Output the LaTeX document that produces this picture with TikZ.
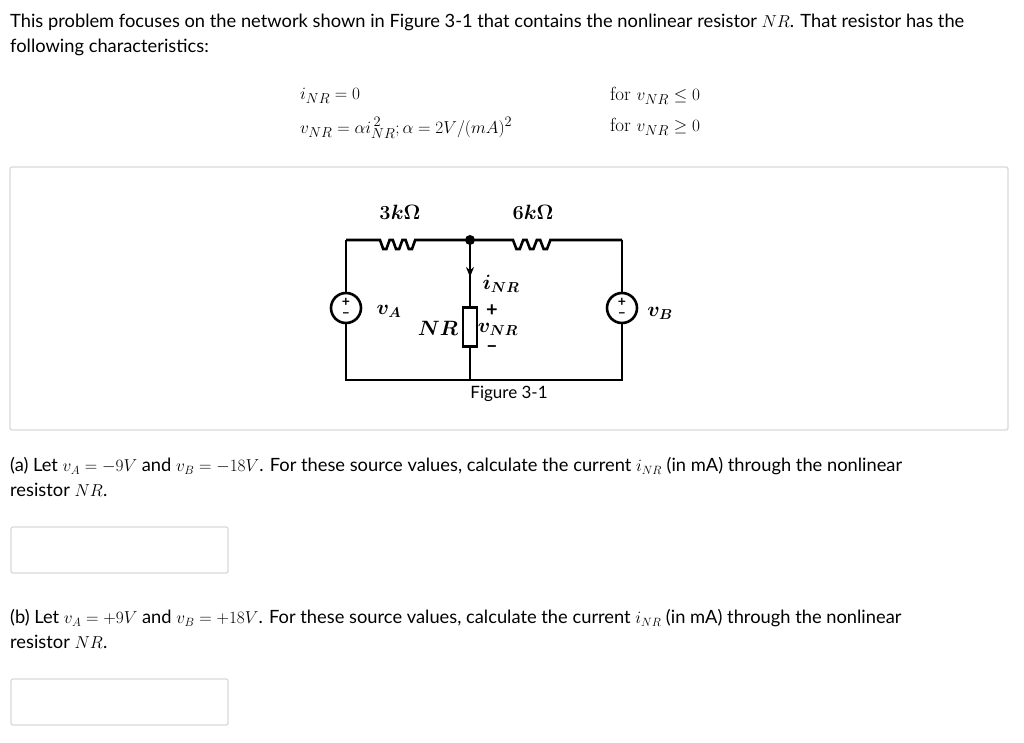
\documentclass[tikz,border=0pt]{standalone}
\usepackage{fontspec}
\setsansfont{Lato}
\usetikzlibrary{arrows.meta,positioning}
\tikzset{
  txt/.style={anchor=west,inner sep=0pt,font=\sffamily\fontsize{18.3}{22}\selectfont},
  eqn/.style={anchor=west,inner sep=0pt,font=\fontsize{19}{22}\selectfont},
  lbl/.style={inner sep=0pt,font=\bfseries\boldmath\fontsize{20}{24}\selectfont},
  ans/.style={draw=black!15,line width=1.3pt,rounded corners=2pt},
  wire/.style={line width=2.6pt}
}
\begin{document}
\begin{tikzpicture}[x=1pt,y=-1pt]
\useasboundingbox (0,0) rectangle (1024,743);

\node[txt] (l1) at (10,22) {This problem focuses on the network shown in Figure 3-1 that contains the nonlinear resistor $NR$. That resistor has the};
\node[txt] (l2) at (10,47) {following characteristics:};

\node[eqn] (e1) at (300,96) {$i_{NR}=0$};
\node[eqn] (e2) at (300,128) {$v_{NR}=\alpha i_{NR}^{\,2};\alpha=2V/(mA)^2$};
\node[eqn] (f1) at (610,96) {for $v_{NR}\le0$};
\node[eqn] (f2) at (610,127) {for $v_{NR}\ge0$};

% figure frame
\draw[ans] (10,167) rectangle (1008,430);

% circuit corners
\coordinate (tl) at (346,240);
\coordinate (tm) at (470,240);
\coordinate (tr) at (622,240);
\coordinate (bl) at (346,380);
\coordinate (bm) at (470,380);
\coordinate (br) at (622,380);
\node[draw,wire,circle,minimum size=30pt,inner sep=0pt] (sa) at (346,308) {};
\node[draw,wire,circle,minimum size=30pt,inner sep=0pt] (sb) at (622,308) {};
\node[draw,wire,minimum width=14pt,minimum height=39pt,inner sep=0pt] (nr) at (470,327) {};

% resistors
\draw[wire] (tl) -- (380,240) \foreach \k in {0,...,5} {-- ++(3.2,{(-1)^\k*9}) -- ++(3.2,0)} -- (tm);
\draw[wire] (tm) -- (513,240) \foreach \k in {0,...,5} {-- ++(3.4,{(-1)^\k*9}) -- ++(3.4,0)} -- (tr);
\draw[wire] (tl) -- (sa.north) (sa.south) -- (bl) -- (br) -- (sb.south) (sb.north) -- (tr);
\draw[wire] (tm) -- (nr.north) (nr.south) -- (bm);
\draw[wire,-{Stealth[length=10pt,width=8pt]}] (tm) -- (470,277);
\fill (tm) circle (5);

\foreach \s in {sa,sb} {
  \node[font=\sffamily\bfseries\fontsize{14}{16}\selectfont,inner sep=0pt] at ([yshift=6]\s.center) {+};
  \node[font=\sffamily\bfseries\fontsize{14}{16}\selectfont,inner sep=0pt] at ([yshift=-7]\s.center) {--};
}

\node[lbl] (r1) at (400,212) {3$k\Omega$};
\node[lbl] (r2) at (533,212) {6$k\Omega$};
\node[lbl] (va) at (389,311) {$v_A$};
\node[lbl] (vb) at (660,313) {$v_B$};
\node[lbl] (nl) at (438,328) {$NR$};
\node[lbl] (inr) at (501,284) {$i_{NR}$};
\node[lbl] (pp) at (492,311) {\sffamily +};
\node[lbl] (vnr) at (498,329) {$v_{NR}$};
\node[lbl] (mm) at (492,349) {\sffamily --};
\node[font=\sffamily\fontsize{17}{20}\selectfont,inner sep=0pt] (cap) at (509,394) {Figure 3-1};

\node[txt] (a1) at (10,466) {(a) Let $v_A=-9V$ and $v_B=-18V$. For these source values, calculate the current $i_{NR}$ (in mA) through the nonlinear};
\node[txt] (a2) at (10,490) {resistor $NR$.};
\draw[ans] (11,527) rectangle (228,573);
\node[txt] (b1) at (10,618) {(b) Let $v_A=+9V$ and $v_B=+18V$. For these source values, calculate the current $i_{NR}$ (in mA) through the nonlinear};
\node[txt] (b2) at (10,642) {resistor $NR$.};
\draw[ans] (11,679) rectangle (228,725);
\end{tikzpicture}
\end{document}
